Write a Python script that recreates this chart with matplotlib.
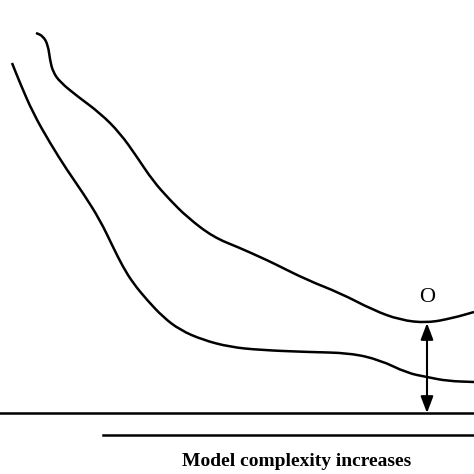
import matplotlib

matplotlib.use("Agg")
import matplotlib.pyplot as plt
from matplotlib.patches import PathPatch
from matplotlib.path import Path

# curve points (pixel space, y grows downward)
upper_x = [36, 43, 48, 50, 53, 60, 77, 100, 120, 137, 153, 170, 187, 213, 240, 260,
           273, 307, 340, 373, 400, 427, 453, 474]
upper_y = [33, 36, 45, 60, 72, 82, 96, 113, 133, 157, 181, 200, 217, 237, 248, 257,
           263, 280, 293, 310, 320, 323, 318, 312]

lower_x = [12, 20, 33, 50, 67, 83, 100, 113, 123, 133, 147, 163, 180, 203, 230,
           260, 307, 350, 380, 407, 427, 447, 474]
lower_y = [63, 83, 113, 143, 170, 193, 220, 247, 267, 283, 300, 317, 330, 340, 347,
           350, 352, 353, 360, 373, 377, 381, 382]

baseline_y = 413
axis_y = 435
axis_x0 = 103
opt_x = 427
opt_label = "O"
xlabel = "Model complexity increases"


def smooth_path(xs, ys):
    # quadratic bezier through midpoints, read points act as control points
    pts = list(zip(xs, ys))
    mid = lambda a, b: ((a[0] + b[0]) / 2, (a[1] + b[1]) / 2)
    verts = [pts[0], mid(pts[0], pts[1])]
    codes = [Path.MOVETO, Path.LINETO]
    for i in range(1, len(pts) - 1):
        verts += [pts[i], mid(pts[i], pts[i + 1])]
        codes += [Path.CURVE3, Path.CURVE3]
    verts.append(pts[-1])
    codes.append(Path.LINETO)
    return Path(verts, codes)


fig = plt.figure(figsize=(4.74, 4.74), dpi=100)
ax = fig.add_axes([0, 0, 1, 1])
ax.set_xlim(0, 474)
ax.set_ylim(474, 0)
ax.axis("off")

for xs, ys in [(upper_x, upper_y), (lower_x, lower_y)]:
    ax.add_patch(PathPatch(smooth_path(xs, ys), facecolor="none",
                           edgecolor="black", linewidth=1.8, capstyle="butt"))

ax.plot([0, 474], [baseline_y, baseline_y], color="black", linewidth=1.8)
ax.plot([axis_x0, 474], [axis_y, axis_y], color="black", linewidth=1.8)

# gap between optimum and baseline
opt_y = upper_y[upper_x.index(opt_x)]
ax.annotate("", xy=(opt_x, opt_y), xytext=(opt_x, baseline_y),
            arrowprops=dict(arrowstyle="<|-|>,head_length=1.0,head_width=0.38",
                            color="black", linewidth=1.5,
                            shrinkA=0, shrinkB=0))

ax.text(opt_x, opt_y - 16, opt_label, family="Liberation Serif", fontsize=16,
        ha="center", va="bottom")
ax.text(297, 462, xlabel, family="Liberation Serif", fontweight="bold",
        fontsize=14, ha="center", va="center")

fig.savefig("out.png", dpi=100, facecolor="white")
